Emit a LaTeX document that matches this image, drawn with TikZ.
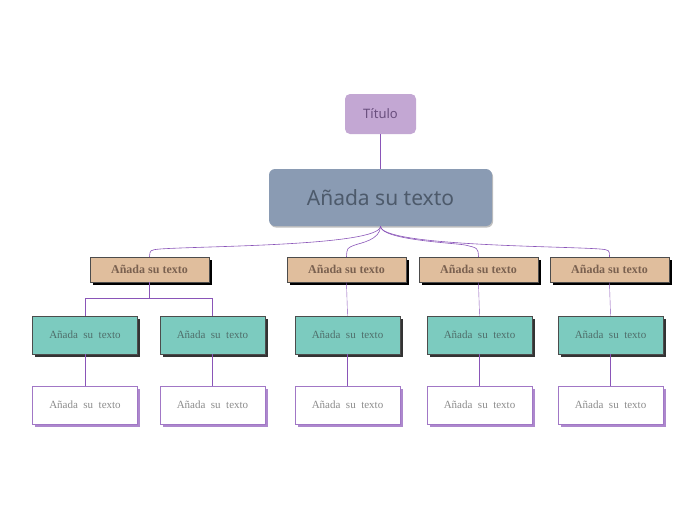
\documentclass[tikz,border=0pt]{standalone}
\usepackage{fontspec}
\setmainfont{Liberation Serif}
\newfontfamily\titlefont{Noto Sans}
\usetikzlibrary{shadows}
\definecolor{tit}{HTML}{C3A7D3}
\definecolor{titt}{HTML}{6A4F7E}
\definecolor{mainf}{HTML}{8A9BB3}
\definecolor{maint}{HTML}{4D5A6B}
\definecolor{tan}{HTML}{E0BE9D}
\definecolor{tant}{HTML}{7A6150}
\definecolor{teal}{HTML}{7CCBBF}
\definecolor{tealt}{HTML}{4F6E6A}
\definecolor{lin}{HTML}{8A55B8}
\tikzset{
 con/.style={draw=lin, line width=0.6pt},
 tb/.style={draw=black!70, fill=tan, line width=0.5pt, minimum width=119pt, minimum height=25pt, inner sep=0pt, font=\bfseries\fontsize{12}{12}\selectfont, text=tant, drop shadow={shadow xshift=2.5pt, shadow yshift=-2.5pt, fill=black, opacity=1}},
 teb/.style={draw=black!70, fill=teal, line width=0.5pt, minimum width=105pt, minimum height=38pt, inner sep=0pt, font=\fontsize{11}{11}\selectfont, text=tealt, drop shadow={shadow xshift=2.5pt, shadow yshift=-2.5pt, fill=black!80, opacity=1}},
 wb/.style={draw=lin!80, fill=white, line width=0.5pt, minimum width=105pt, minimum height=38pt, inner sep=0pt, font=\fontsize{11}{11}\selectfont, text=black!45, drop shadow={shadow xshift=2.5pt, shadow yshift=-2.5pt, fill=lin!70, opacity=1}},
}
\begin{document}
\begin{tikzpicture}[x=1pt,y=-1pt]
\useasboundingbox (0,0) rectangle (696,520);
\node[fill=tit, rounded corners=5pt, minimum width=71pt, minimum height=40pt, inner sep=0pt, font=\titlefont\bfseries\fontsize{13}{13}\selectfont, text=titt] (t) at (380.5,114) {Título};
\node[fill=mainf, rounded corners=6pt, minimum width=223pt, minimum height=57pt, inner sep=0pt, font=\titlefont\bfseries\fontsize{21}{21}\selectfont, text=maint, drop shadow={shadow xshift=1pt, shadow yshift=-1.5pt, fill=black!25, opacity=1}] (m) at (380.5,197.5) {Añada su texto};
\draw[con] (t.south) -- (m.north);
\foreach \n/\x in {a/149.5,b/346.5,c/478.5,d/609.5}{
 \node[tb] (\n) at (\x,269.5) {Añada su texto};
}
\draw[con] (m.south) .. controls (380.5,246) and (200,246) .. (160,249) .. controls (150,250) .. (a.north);
\draw[con] (m.south) .. controls (380.5,240) and (360,243) .. (355,245) .. controls (347,248) .. (b.north);
\draw[con] (m.south) .. controls (380.5,240) and (455,243) .. (465,245) .. controls (478,248) .. (c.north);
\draw[con] (m.south) .. controls (380.5,246) and (560,246) .. (600,249) .. controls (609.5,250) .. (d.north);
\foreach \n/\x in {1/85,2/212.5,3/347.5,4/479.5,5/610.5}{
 \node[teb] (g\n) at (\x,335) {Añada\ \ su\ \ texto};
 \node[wb] (w\n) at (\x,405) {Añada\ \ su\ \ texto};
 \draw[con, line width=0.4pt] (g\n.south) -- (w\n.north);
}
\coordinate (j) at (149.5,298);
\draw[con, line width=0.4pt] (a.south) -- (j) -| (g1.north);
\draw[con, line width=0.4pt] (j) -| (g2.north);
\draw[con, line width=0.4pt] (b.south) -- (g3.north);
\draw[con, line width=0.4pt] (c.south) -- (g4.north);
\draw[con, line width=0.4pt] (d.south) -- (g5.north);
\end{tikzpicture}
\end{document}
